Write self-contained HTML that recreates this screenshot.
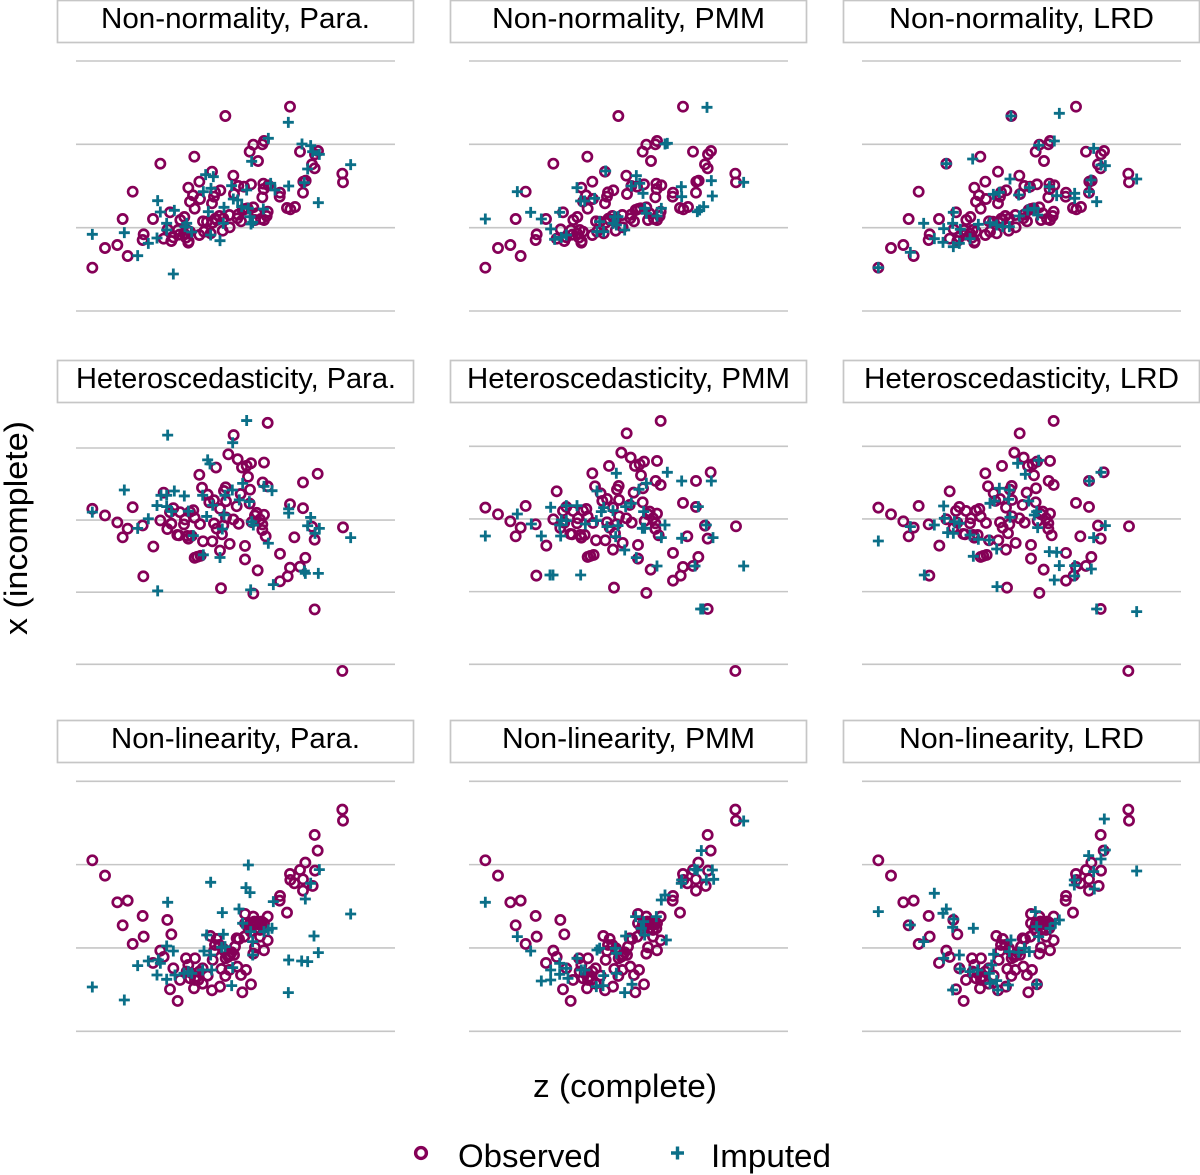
<!DOCTYPE html>
<html lang="en">
<head>
<meta charset="utf-8">
<title>Observed and imputed values by missing data method</title>
<style>
html,body{margin:0;padding:0;background:#fff;}
svg{display:block;}
text{font-family:"Liberation Sans",sans-serif;fill:#000;}
.strip{fill:#fff;stroke:#c6c6c6;stroke-width:1.7;}
.strip-text{font-size:29px;text-anchor:middle;}
.axis-text{font-size:32px;text-anchor:middle;}
.legend-text{font-size:32px;}
.grid{stroke:#c6c6c6;stroke-width:1.6;fill:none;}
.obs{fill:none;stroke:#850057;stroke-width:2.7;}
.imp{fill:none;stroke:#0b6f88;stroke-width:2.8;}
</style>
</head>
<body>
<svg id="chart" width="1200" height="1175" viewBox="0 0 1200 1175" xmlns="http://www.w3.org/2000/svg">
<rect x="0" y="0" width="1200" height="1175" fill="#fff"/>
<g>
<rect class="strip" x="57.5" y="0.5" width="356" height="42"/>
<rect class="strip" x="450.5" y="0.5" width="356" height="42"/>
<rect class="strip" x="843.5" y="0.5" width="356" height="42"/>
<rect class="strip" x="57.5" y="360.5" width="356" height="42"/>
<rect class="strip" x="450.5" y="360.5" width="356" height="42"/>
<rect class="strip" x="843.5" y="360.5" width="356" height="42"/>
<rect class="strip" x="57.5" y="720.5" width="356" height="42"/>
<rect class="strip" x="450.5" y="720.5" width="356" height="42"/>
<rect class="strip" x="843.5" y="720.5" width="356" height="42"/>
<text class="strip-text" x="235.5" y="28" textLength="269" lengthAdjust="spacingAndGlyphs">Non-normality, Para.</text>
<text class="strip-text" x="628.5" y="28" textLength="273" lengthAdjust="spacingAndGlyphs">Non-normality, PMM</text>
<text class="strip-text" x="1021.5" y="28" textLength="265" lengthAdjust="spacingAndGlyphs">Non-normality, LRD</text>
<text class="strip-text" x="236" y="388" textLength="320" lengthAdjust="spacingAndGlyphs">Heteroscedasticity, Para.</text>
<text class="strip-text" x="628.5" y="388" textLength="323" lengthAdjust="spacingAndGlyphs">Heteroscedasticity, PMM</text>
<text class="strip-text" x="1021.5" y="388" textLength="315" lengthAdjust="spacingAndGlyphs">Heteroscedasticity, LRD</text>
<text class="strip-text" x="235.5" y="748" textLength="249" lengthAdjust="spacingAndGlyphs">Non-linearity, Para.</text>
<text class="strip-text" x="628.5" y="748" textLength="253" lengthAdjust="spacingAndGlyphs">Non-linearity, PMM</text>
<text class="strip-text" x="1021.5" y="748" textLength="245" lengthAdjust="spacingAndGlyphs">Non-linearity, LRD</text>
</g>
<g id="panels"></g>
<text class="axis-text" x="625" y="1097" textLength="184" lengthAdjust="spacingAndGlyphs">z (complete)</text>
<text class="axis-text" transform="translate(27,528) rotate(-90)" textLength="214" lengthAdjust="spacingAndGlyphs">x (incomplete)</text>
<g>
<circle class="obs" cx="421" cy="1153" r="5.4" style="stroke-width:3.4"/>
<text class="legend-text" x="458" y="1167" textLength="143" lengthAdjust="spacingAndGlyphs">Observed</text>
<path class="imp" d="M671 1153H684M677.5 1146.5V1159.5" style="stroke-width:3.4"/>
<text class="legend-text" x="711" y="1167" textLength="120" lengthAdjust="spacingAndGlyphs">Imputed</text>
</g>
</svg>
<script>
const scenarios = ['Non-normality', 'Heteroscedasticity', 'Non-linearity'];
const methods = ['Para.', 'PMM', 'LRD'];
const zDomain = [-477, 480];
const xTicksNonNormality = [0, 250, 500, 750];
const xTicksHeteroscedasticity = [0, 218, 436, 654];
const xTicksNonLinearity = [0, 250, 500, 750];

const observedNonNormality = [[-428,130],[-390,189],[-353,198],[-322,165],[-337,276],[-307,358],[-277,213],[-274,230],[-224,442],[-246,276],[-214,217],[-202,245],[-195,296],[-191,210],[-185,221],[-171,243],[-164,273],[-152,282],[-167,229],[-153,233],[-145,243],[-139,209],[-140,205],[-147,220],[-135,238],[-122,463],[-140,370],[-126,347],[-135,328],[-107,388],[-105,336],[-121,307],[-96,269],[-84,268],[-107,228],[-93,238],[-73,233],[-69,418],[-60,356],[-63,343],[-69,323],[-44,362],[-59,277],[-47,285],[-67,265],[-55,273],[-37,241],[-35,278],[-29,585],[-16,251],[-17,288],[-5,406],[-3,351],[10,375],[9,289],[7,278],[18,269],[23,303],[30,306],[38,308],[27,373],[48,380],[44,478],[55,499],[69,450],[82,341],[85,382],[82,500],[87,510],[86,366],[100,377],[55,311],[60,273],[65,293],[78,276],[87,273],[95,285],[98,298],[135,355],[134,343],[156,309],[166,305],[180,312],[165,613],[195,478],[204,355],[205,388],[212,391],[231,440],[239,428],[240,470],[249,480],[322,412],[324,386]];
const observedHeteroscedasticity = [[-428,470],[-390,450],[-353,429],[-322,410],[-337,384],[-307,475],[-277,420],[-245,356],[-275,266],[-214,519],[-224,435],[-203,409],[-195,460],[-185,472],[-191,425],[-165,460],[-173,391],[-168,390],[-153,423],[-150,438],[-140,380],[-143,388],[-130,388],[-135,461],[-125,466],[-121,443],[-107,573],[-99,534],[-105,424],[-96,372],[-103,328],[-121,322],[-113,325],[-82,513],[-77,490],[-63,496],[-57,595],[-68,372],[-63,426],[-55,410],[-45,344],[-39,393],[-45,470],[-42,230],[-35,420],[-33,524],[-28,535],[-27,493],[-27,444],[-16,364],[-20,635],[8,620],[-5,438],[11,425],[5,478],[17,515],[21,595],[35,600],[48,608],[39,567],[45,528],[44,486],[30,358],[30,317],[68,284],[55,214],[50,430],[65,458],[60,450],[75,438],[83,550],[98,538],[87,610],[87,452],[82,423],[82,406],[92,387],[98,730],[-4,693],[135,334],[135,251],[158,266],[165,292],[165,484],[195,295],[211,322],[204,550],[204,472],[178,384],[231,416],[239,377],[248,576],[239,166],[324,414],[322,-20]];
const observedNonLinearity = [[-428,513],[-390,467],[-353,387],[-322,392],[-337,318],[-307,262],[-277,346],[-274,284],[-246,205],[-224,242],[-214,223],[-203,334],[-191,291],[-185,189],[-195,126],[-172,91],[-165,154],[-147,219],[-140,199],[-120,219],[-123,129],[-135,159],[-120,154],[-145,179],[-107,179],[-97,189],[-97,143],[-110,154],[-82,167],[-74,286],[-69,123],[-67,214],[-55,277],[-63,241],[-60,259],[-45,134],[-41,187],[-29,166],[-36,249],[-28,219],[-17,184],[-15,229],[-3,229],[0,254],[5,279],[12,277],[7,194],[18,169],[22,117],[33,184],[30,352],[28,284],[48,141],[55,233],[60,252],[55,344],[75,284],[87,243],[98,273],[98,344],[87,324],[65,309],[75,319],[45,324],[58,329],[135,406],[134,392],[156,356],[165,472],[166,454],[178,444],[195,484],[204,456],[211,506],[204,422],[233,436],[240,482],[248,542],[239,589],[322,665],[324,632],[30,324],[40,309],[50,317],[65,324],[80,329],[85,309],[75,304],[47,299],[-47,259],[-35,244],[-20,224],[-10,237],[-130,174],[-117,164]];

const imputedNonNormalityPara = [[-428,230],[-332,235],[-292,166],[-260,203],[-232,331],[-224,297],[-234,219],[-185,111],[-182,302],[-205,263],[-205,243],[-145,263],[-150,253],[-130,237],[-88,409],[-65,403],[-95,358],[-72,368],[-80,298],[-73,228],[-45,211],[-35,263],[-33,311],[-10,376],[-5,336],[8,333],[35,363],[20,313],[40,308],[45,283],[48,261],[53,266],[50,449],[85,306],[100,518],[107,383],[120,363],[161,375],[160,566],[201,501],[227,496],[233,478],[253,470],[218,426],[208,385],[250,325],[347,439]];
const imputedNonNormalityPMM = [[-428,276],[-332,358],[-292,296],[-260,276],[-232,246],[-220,215],[-205,296],[-200,221],[-185,228],[-153,370],[-142,330],[-130,330],[-100,338],[-85,268],[-93,238],[-73,238],[-67,420],[-40,283],[-35,258],[-45,263],[-30,283],[-10,243],[10,375],[25,406],[35,383],[45,353],[50,308],[55,293],[87,285],[100,308],[111,501],[118,503],[160,373],[161,343],[208,298],[215,303],[227,313],[237,611],[250,391],[253,345],[347,386]];
const imputedNonNormalityLRD = [[-428,130],[-332,176],[-292,263],[-260,217],[-232,247],[-234,206],[-203,193],[-185,203],[-203,296],[-205,263],[-182,245],[-224,442],[-153,217],[-145,456],[-128,260],[-93,265],[-83,350],[-65,356],[-73,258],[-55,253],[-35,253],[-30,585],[-33,396],[-7,348],[-5,285],[20,303],[25,370],[40,308],[50,288],[53,497],[85,373],[100,510],[107,346],[115,593],[161,353],[161,338],[205,358],[210,393],[218,488],[227,328],[240,438],[253,436],[347,396]];
const imputedHeteroscedasticityPara = [[-428,460],[-332,527],[-292,411],[-260,440],[-234,480],[-232,222],[-222,511],[-205,511],[-202,693],[-205,477],[-190,462],[-182,524],[-152,509],[-140,463],[-125,389],[-95,331],[-97,511],[-85,447],[-82,618],[-75,606],[-67,481],[-45,323],[-38,409],[-33,452],[-30,511],[-8,527],[-7,670],[13,497],[23,547],[35,737],[43,492],[47,225],[50,431],[55,421],[87,538],[100,366],[111,525],[115,241],[161,470],[161,457],[208,282],[211,275],[218,419],[227,444],[240,396],[250,275],[253,411],[347,383]];
const imputedHeteroscedasticityPMM = [[-428,385],[-332,451],[-290,421],[-260,385],[-232,471],[-234,268],[-225,268],[-205,418],[-202,385],[-200,433],[-185,476],[-185,431],[-153,476],[-142,268],[-128,421],[-95,431],[-93,520],[-80,458],[-73,470],[-63,413],[-45,461],[-35,573],[-37,383],[-30,416],[-10,343],[-7,473],[10,483],[25,320],[33,525],[47,458],[43,408],[50,408],[55,543],[87,295],[100,380],[111,418],[118,576],[161,550],[161,378],[201,295],[211,473],[218,166],[225,166],[235,418],[250,550],[255,380],[347,295]];
const imputedHeteroscedasticityLRD = [[-428,370],[-332,413],[-290,268],[-260,418],[-232,475],[-230,438],[-220,395],[-203,393],[-200,428],[-185,423],[-153,388],[-143,324],[-128,375],[-93,483],[-95,373],[-80,490],[-73,346],[-72,233],[-65,528],[-35,523],[-37,495],[-33,441],[-10,603],[13,570],[23,490],[40,448],[47,458],[50,410],[53,612],[85,338],[100,253],[107,336],[115,296],[161,296],[161,265],[205,550],[211,286],[218,380],[227,166],[240,576],[253,416],[347,158]];
const imputedNonLinearityPara = [[-428,133],[-332,94],[-292,197],[-260,211],[-234,169],[-230,214],[-224,204],[-205,156],[-205,256],[-202,387],[-185,241],[-180,169],[-153,174],[-140,179],[-130,174],[-97,184],[-93,241],[-85,289],[-73,447],[-70,184],[-73,229],[-38,356],[-35,291],[-40,252],[-30,254],[-10,137],[-7,191],[12,367],[23,324],[33,431],[45,416],[40,499],[47,299],[53,269],[53,229],[87,299],[100,304],[111,309],[115,389],[161,214],[160,116],[200,211],[218,209],[211,397],[227,444],[237,286],[250,236],[253,485],[347,352]];
const imputedNonLinearityPMM = [[-428,387],[-332,284],[-292,241],[-260,151],[-232,154],[-232,184],[-205,204],[-205,171],[-185,189],[-180,159],[-153,219],[-140,184],[-130,184],[-95,134],[-93,244],[-85,249],[-73,167],[-75,137],[-38,249],[-35,234],[-35,174],[-10,116],[-7,286],[12,141],[23,344],[40,309],[47,329],[50,289],[85,344],[100,394],[111,409],[115,274],[161,454],[160,444],[200,486],[208,484],[220,542],[235,454],[253,484],[257,456],[347,631]];
const imputedNonLinearityLRD = [[-428,359],[-332,319],[-292,269],[-260,414],[-234,354],[-224,367],[-232,219],[-205,124],[-205,312],[-202,337],[-185,229],[-182,187],[-153,179],[-143,309],[-130,184],[-95,174],[-93,144],[-88,199],[-82,231],[-73,152],[-70,124],[-35,239],[-30,274],[-38,139],[-7,237],[10,249],[25,239],[43,359],[47,141],[47,314],[53,284],[87,309],[103,324],[115,334],[160,454],[160,439],[203,527],[218,479],[220,427],[240,517],[253,544],[250,637],[347,481]];

const observedByScenario = [observedNonNormality, observedHeteroscedasticity, observedNonLinearity];
const imputedByPanel = [
  [imputedNonNormalityPara, imputedNonNormalityPMM, imputedNonNormalityLRD],
  [imputedHeteroscedasticityPara, imputedHeteroscedasticityPMM, imputedHeteroscedasticityLRD],
  [imputedNonLinearityPara, imputedNonLinearityPMM, imputedNonLinearityLRD]
];
const ticksByScenario = [xTicksNonNormality, xTicksHeteroscedasticity, xTicksNonLinearity];

const NS = 'http://www.w3.org/2000/svg';
const panelsRoot = document.getElementById('panels');

function panelFrame(row, col) {
  const left = 76 + 393 * col;
  const frames = [[311, 61], [664.3, 446.3], [1031.3, 781.3]];
  let bottom = frames[row][0];
  let top = frames[row][1];
  if (row === 1 && col === 0) { top = 448; }
  return { left: left, right: left + 319, bottom: bottom, top: top };
}
function zScale(frame, z) {
  return frame.left + (z - zDomain[0]) / (zDomain[1] - zDomain[0]) * (frame.right - frame.left);
}
function xScale(frame, ticks, v) {
  const lo = ticks[0];
  const hi = ticks[ticks.length - 1];
  return frame.bottom - (v - lo) / (hi - lo) * (frame.bottom - frame.top);
}
function slug(s) {
  return s.toLowerCase().replace(/[^a-z]+/g, '-').replace(/-$/, '');
}

scenarios.forEach(function (scenario, row) {
  methods.forEach(function (method, col) {
    const frame = panelFrame(row, col);
    const ticks = ticksByScenario[row];
    const g = document.createElementNS(NS, 'g');
    
    
    panelsRoot.appendChild(g);

    ticks.forEach(function (t) {
      const y = xScale(frame, ticks, t);
      const line = document.createElementNS(NS, 'line');
      line.setAttribute('class', 'grid');
      line.setAttribute('x1', frame.left);
      line.setAttribute('x2', frame.right);
      line.setAttribute('y1', y);
      line.setAttribute('y2', y);
      
      
      g.appendChild(line);
    });

    observedByScenario[row].forEach(function (p) {
      const c = document.createElementNS(NS, 'circle');
      c.setAttribute('class', 'obs');
      c.setAttribute('cx', zScale(frame, p[0]));
      c.setAttribute('cy', xScale(frame, ticks, p[1]));
      c.setAttribute('r', 4.6);
      
      
      g.appendChild(c);
    });

    imputedByPanel[row][col].forEach(function (p) {
      const cx = zScale(frame, p[0]);
      const cy = xScale(frame, ticks, p[1]);
      const m = document.createElementNS(NS, 'path');
      m.setAttribute('class', 'imp');
      m.setAttribute('d', 'M' + (cx - 5.5) + ' ' + cy + 'H' + (cx + 5.5) + 'M' + cx + ' ' + (cy - 5.5) + 'V' + (cy + 5.5));
      
      
      g.appendChild(m);
    });
  });
});
</script>
</body>
</html>
